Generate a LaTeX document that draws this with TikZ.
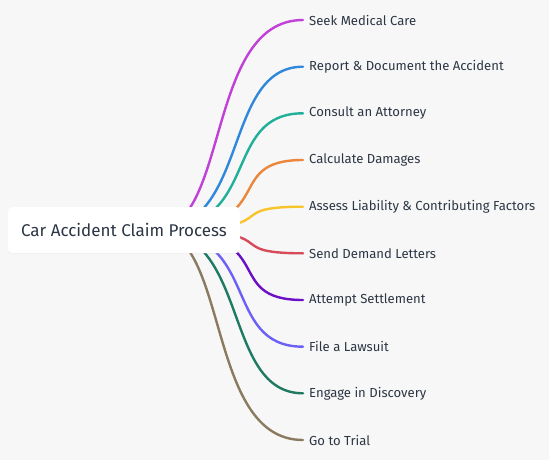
\documentclass[tikz,border=0pt]{standalone}
\usepackage{fontspec}
\setmainfont{Fira Sans}
\usetikzlibrary{shadows}
\definecolor{bgc}{RGB}{247,247,247}
\definecolor{txt}{RGB}{44,54,68}
\definecolor{cMag}{RGB}{192,64,216}
\definecolor{cBlue}{RGB}{48,136,220}
\definecolor{cTeal}{RGB}{32,176,154}
\definecolor{cOrange}{RGB}{236,134,58}
\definecolor{cYellow}{RGB}{248,196,44}
\definecolor{cRed}{RGB}{214,74,90}
\definecolor{cPurple}{RGB}{108,16,200}
\definecolor{cLav}{RGB}{108,96,248}
\definecolor{cDkGreen}{RGB}{30,122,96}
\definecolor{cBrown}{RGB}{138,122,96}
\begin{document}
\begin{tikzpicture}[x=1pt,y=-1pt,
  lbl/.style={anchor=west,inner xsep=6pt,inner ysep=0pt,text=txt,font=\fontsize{13.1}{15}\selectfont},
  branch/.style={line width=2.4pt,line cap=round},
  rootbox/.style={fill=white,rounded corners=4pt,minimum width=232pt,minimum height=46pt,
    inner sep=0pt,text=txt,font=\fontsize{17}{20}\selectfont,
    drop shadow={opacity=0.06,shadow xshift=0pt,shadow yshift=-1pt}}]
\useasboundingbox[fill=bgc] (0,0) rectangle (549,460);
\node[lbl] (n1) at (303,20) {Seek Medical Care};
\node[lbl] (n2) at (303,66.7) {Report \& Document the Accident};
\node[lbl] (n3) at (303,113.3) {Consult an Attorney};
\node[lbl] (n4) at (303,160) {Calculate Damages};
\node[lbl] (n5) at (303,206.7) {Assess Liability \& Contributing Factors};
\node[lbl] (n6) at (303,253.3) {Send Demand Letters};
\node[lbl] (n7) at (303,300) {Attempt Settlement};
\node[lbl] (n8) at (303,346.7) {File a Lawsuit};
\node[lbl] (n9) at (303,393.3) {Engage in Discovery};
\node[lbl] (n10) at (303,440) {Go to Trial};
\coordinate (o) at (155,230);
\draw[branch,cMag] (o) .. controls +(75,0) and +(-98,0) .. (n1.west);
\draw[branch,cBlue] (o) .. controls +(95,0) and +(-81,0) .. (n2.west);
\draw[branch,cTeal] (o) .. controls +(108,0) and +(-83,0) .. (n3.west);
\draw[branch,cOrange] (o) .. controls +(130,0) and +(-85,0) .. (n4.west);
\draw[branch,cYellow] (o) .. controls +(140,0) and +(-88,0) .. (n5.west);
\draw[branch,cRed] (o) .. controls +(140,0) and +(-88,0) .. (n6.west);
\draw[branch,cPurple] (o) .. controls +(130,0) and +(-85,0) .. (n7.west);
\draw[branch,cLav] (o) .. controls +(108,0) and +(-83,0) .. (n8.west);
\draw[branch,cDkGreen] (o) .. controls +(95,0) and +(-81,0) .. (n9.west);
\draw[branch,cBrown] (o) .. controls +(75,0) and +(-98,0) .. (n10.west);
\node[rootbox] (root) at (124,230) {Car Accident Claim Process};
\end{tikzpicture}
\end{document}
